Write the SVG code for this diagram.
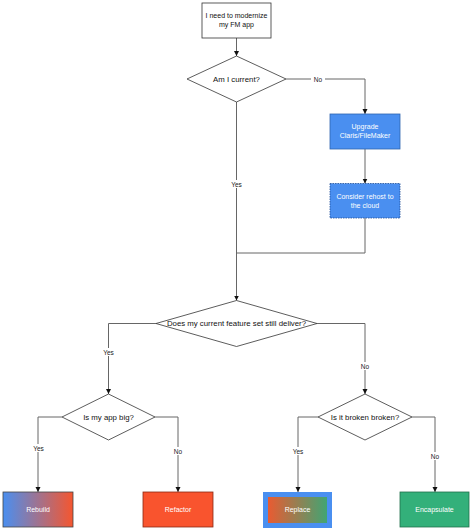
<svg xmlns="http://www.w3.org/2000/svg" width="474" height="532" viewBox="0 0 474 532">
<style>
.n{fill:#fff;stroke:#333;stroke-width:0.8}
.t{font-family:"Liberation Sans",Arial,sans-serif;font-size:7px;fill:#111;text-anchor:middle}
.d{font-size:7.8px}
.w{fill:#fff}
.c{fill:none;stroke:#666;stroke-width:1}
.lb{font-family:"Liberation Sans",Arial,sans-serif;font-size:6.5px;fill:#222;text-anchor:middle}
.lbg{fill:#fff}
</style>
<defs>
<marker id="a" markerWidth="6" markerHeight="6" refX="5" refY="3" orient="auto" markerUnits="userSpaceOnUse">
<path d="M0,0.5 L5,3 L0,5.5 Z" fill="#111"/>
</marker>
<linearGradient id="g1" x1="0" y1="0" x2="1" y2="0">
<stop offset="0" stop-color="#4a8ff0"/>
<stop offset="1" stop-color="#f5562f"/>
</linearGradient>
<linearGradient id="g2" x1="0" y1="0" x2="1" y2="0">
<stop offset="0" stop-color="#f0582f"/>
<stop offset="1" stop-color="#3aa876"/>
</linearGradient>
</defs>
<g id="connectors">
<path class="c" d="M236.5,38 V56" marker-end="url(#a)"/>
<path class="c" d="M286,79 H365 V114" marker-end="url(#a)"/>
<path class="c" d="M365,149 V183.5" marker-end="url(#a)"/>
<path class="c" d="M365,218 V253 H236.5"/>
<path class="c" d="M236.5,102 V300.5" marker-end="url(#a)"/>
<path class="c" d="M156,323.5 H108.5 V394" marker-end="url(#a)"/>
<path class="c" d="M317,323.5 H365 V394" marker-end="url(#a)"/>
<path class="c" d="M62,417 H38 V492" marker-end="url(#a)"/>
<path class="c" d="M155,417 H178 V492" marker-end="url(#a)"/>
<path class="c" d="M318,417 H298 V492" marker-end="url(#a)"/>
<path class="c" d="M412,417 H435 V492" marker-end="url(#a)"/>
<rect class="lbg" x="311" y="75" width="14" height="8"/><text class="lb" x="318" y="81.5">No</text>
<rect class="lbg" x="229" y="180" width="15" height="8"/><text class="lb" x="236.5" y="186.5">Yes</text>
<rect class="lbg" x="101" y="348" width="15" height="8"/><text class="lb" x="108.5" y="354.5">Yes</text>
<rect class="lbg" x="358" y="362" width="14" height="8"/><text class="lb" x="365" y="368.5">No</text>
<rect class="lbg" x="31" y="444" width="15" height="8"/><text class="lb" x="38.5" y="450.5">Yes</text>
<rect class="lbg" x="171" y="447" width="14" height="8"/><text class="lb" x="178" y="453.5">No</text>
<rect class="lbg" x="291" y="447" width="15" height="8"/><text class="lb" x="298" y="453.5">Yes</text>
<rect class="lbg" x="428" y="452" width="14" height="8"/><text class="lb" x="435" y="458.5">No</text>
</g>
<g id="start">
<rect class="n" x="202" y="3" width="69" height="35"/>
<text class="t" x="236.5" y="18">I need to modernize</text>
<text class="t" x="236.5" y="27">my FM app</text>
</g>
<g id="current">
<polygon class="n" points="236.5,56 286,79 236.5,102 187,79"/>
<text class="t d" x="236.5" y="81.5">Am I current?</text>
</g>
<g id="upgrade">
<rect x="330" y="114" width="70" height="35" fill="#4a8ff0" stroke="#2f64b0" stroke-width="0.8"/>
<text class="t w" x="365" y="129">Upgrade</text>
<text class="t w" x="365" y="137.5">Claris/FileMaker</text>
</g>
<g id="rehost">
<rect x="330" y="183.5" width="70" height="34.5" fill="#4a8ff0" stroke="#1f4f99" stroke-width="0.8" stroke-dasharray="1.5,1"/>
<text class="t w" x="365" y="198.5">Consider rehost to</text>
<text class="t w" x="365" y="207.5">the cloud</text>
</g>
<g id="deliver">
<polygon class="n" points="236.5,300.5 317,323.5 236.5,346.5 156,323.5"/>
<text class="t d" x="236.5" y="326">Does my current feature set still deliver?</text>
</g>
<g id="big">
<polygon class="n" points="108.5,394 155,417 108.5,440 62,417"/>
<text class="t d" x="108.5" y="419.5">Is my app big?</text>
</g>
<g id="broken">
<polygon class="n" points="365,394 412,417 365,440 318,417"/>
<text class="t d" x="365" y="419.5">Is it broken broken?</text>
</g>
<g id="rebuild">
<rect x="3" y="492" width="70" height="35" fill="url(#g1)" stroke="#444" stroke-width="0.8"/>
<text class="t w" x="38" y="512">Rebuild</text>
</g>
<g id="refactor">
<rect x="143" y="492" width="70" height="35" fill="#f9542e" stroke="#8a2a14" stroke-width="0.8"/>
<text class="t w" x="178" y="512">Refactor</text>
</g>
<g id="replace">
<rect x="265.5" y="494.5" width="64" height="31" fill="url(#g2)" stroke="#4a8ff0" stroke-width="5"/>
<text class="t w" x="297.5" y="512">Replace</text>
</g>
<g id="encapsulate">
<rect x="400" y="492" width="69" height="35" fill="#33b07a" stroke="#22704c" stroke-width="0.8"/>
<text class="t w" x="434.5" y="512">Encapsulate</text>
</g>
</svg>
